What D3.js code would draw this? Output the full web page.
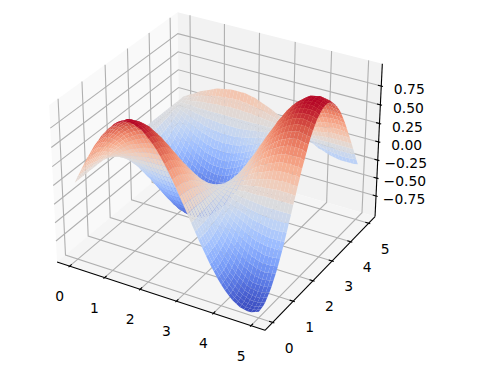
<!DOCTYPE html>
<html>
<head>
<meta charset="utf-8">
<script src="https://cdn.jsdelivr.net/npm/d3@7"></script>
<style>
  html, body { margin: 0; padding: 0; background: #fff; }
  svg { display: block; }
  text { font-family: "DejaVu Sans"; font-size: 13.89px; fill: #000; }
</style>
</head>
<body>
<svg></svg>
<script>
// Surface values, one row per x, one column per y
const xValues = [0,.1,.2,.3,.4,.5,.6,.7,.8,.9,1,1.1,1.2,1.3,1.4,1.5,1.6,1.7,1.8,1.9,2,2.1,2.2,2.3,2.4,2.5,2.6,2.7,2.8,2.9,3,3.1,3.2,3.3,3.4,3.5,3.6,3.7,3.8,3.9,4,4.1,4.2,4.3,4.4,4.5,4.6,4.7,4.8,4.9,5];
const yValues = [0,.1,.2,.3,.4,.5,.6,.7,.8,.9,1,1.1,1.2,1.3,1.4,1.5,1.6,1.7,1.8,1.9,2,2.1,2.2,2.3,2.4,2.5,2.6,2.7,2.8,2.9,3,3.1,3.2,3.3,3.4,3.5,3.6,3.7,3.8,3.9,4,4.1,4.2,4.3,4.4,4.5,4.6,4.7,4.8,4.9,5];
const zValues = [
[0,0,0,0,0,0,0,0,0,0,0,0,0,0,0,0,0,0,0,0,0,0,0,0,0,0,0,0,0,0,0,0,0,0,0,0,0,0,0,0,0,0,0,0,0,0,0,0,0,0,0],
[.10,.10,.10,.10,.09,.09,.08,.08,.07,.06,.05,.05,.04,.03,.02,.01,0,-.01,-.02,-.03,-.04,-.05,-.06,-.07,-.07,-.08,-.09,-.09,-.09,-.10,-.10,-.10,-.10,-.10,-.10,-.09,-.09,-.08,-.08,-.07,-.07,-.06,-.05,-.04,-.03,-.02,-.01,0,.01,.02,.03],
[.20,.20,.20,.19,.18,.17,.16,.15,.14,.12,.11,.09,.07,.05,.03,.01,-.01,-.03,-.05,-.06,-.08,-.10,-.12,-.13,-.15,-.16,-.17,-.18,-.19,-.19,-.20,-.20,-.20,-.20,-.19,-.19,-.18,-.17,-.16,-.14,-.13,-.11,-.10,-.08,-.06,-.04,-.02,0,.02,.04,.06],
[.30,.29,.29,.28,.27,.26,.24,.23,.21,.18,.16,.13,.11,.08,.05,.02,-.01,-.04,-.07,-.10,-.12,-.15,-.17,-.20,-.22,-.24,-.25,-.27,-.28,-.29,-.29,-.30,-.30,-.29,-.29,-.28,-.27,-.25,-.23,-.21,-.19,-.17,-.15,-.12,-.09,-.06,-.03,0,.03,.06,.08],
[.39,.39,.38,.37,.36,.34,.32,.30,.27,.24,.21,.18,.14,.10,.07,.03,-.01,-.05,-.09,-.13,-.16,-.20,-.23,-.26,-.29,-.31,-.33,-.35,-.37,-.38,-.39,-.39,-.39,-.38,-.38,-.36,-.35,-.33,-.31,-.28,-.25,-.22,-.19,-.16,-.12,-.08,-.04,0,.03,.07,.11],
[.48,.48,.47,.46,.44,.42,.40,.37,.33,.30,.26,.22,.17,.13,.08,.03,-.01,-.06,-.11,-.15,-.20,-.24,-.28,-.32,-.35,-.38,-.41,-.43,-.45,-.47,-.47,-.48,-.48,-.47,-.46,-.45,-.43,-.41,-.38,-.35,-.31,-.28,-.23,-.19,-.15,-.10,-.05,-.01,.04,.09,.14],
[.57,.56,.55,.54,.52,.50,.47,.43,.39,.35,.31,.26,.20,.15,.10,.04,-.02,-.07,-.13,-.18,-.24,-.29,-.33,-.38,-.42,-.45,-.48,-.51,-.53,-.55,-.56,-.56,-.56,-.56,-.55,-.53,-.51,-.48,-.45,-.41,-.37,-.32,-.28,-.23,-.17,-.12,-.06,-.01,.05,.11,.16],
[.64,.64,.63,.62,.59,.57,.53,.49,.45,.40,.35,.29,.23,.17,.11,.05,-.02,-.08,-.15,-.21,-.27,-.33,-.38,-.43,-.47,-.52,-.55,-.58,-.61,-.63,-.64,-.64,-.64,-.64,-.62,-.60,-.58,-.55,-.51,-.47,-.42,-.37,-.32,-.26,-.20,-.14,-.07,-.01,.06,.12,.18],
[.72,.71,.70,.68,.66,.63,.59,.55,.50,.45,.39,.33,.26,.19,.12,.05,-.02,-.09,-.16,-.23,-.30,-.36,-.42,-.48,-.53,-.57,-.61,-.65,-.68,-.70,-.71,-.72,-.72,-.71,-.69,-.67,-.64,-.61,-.57,-.52,-.47,-.41,-.35,-.29,-.22,-.15,-.08,-.01,.06,.13,.20],
[.78,.78,.77,.75,.72,.69,.65,.60,.55,.49,.42,.36,.28,.21,.13,.06,-.02,-.10,-.18,-.25,-.33,-.40,-.46,-.52,-.58,-.63,-.67,-.71,-.74,-.76,-.78,-.78,-.78,-.77,-.76,-.73,-.70,-.66,-.62,-.57,-.51,-.45,-.38,-.31,-.24,-.17,-.09,-.01,.07,.15,.22],
[.84,.84,.82,.80,.77,.74,.69,.64,.59,.52,.45,.38,.30,.22,.14,.06,-.02,-.11,-.19,-.27,-.35,-.42,-.50,-.56,-.62,-.67,-.72,-.76,-.79,-.82,-.83,-.84,-.84,-.83,-.81,-.79,-.75,-.71,-.67,-.61,-.55,-.48,-.41,-.34,-.26,-.18,-.09,-.01,.07,.16,.24],
[.89,.89,.87,.85,.82,.78,.74,.68,.62,.55,.48,.40,.32,.24,.15,.06,-.03,-.11,-.20,-.29,-.37,-.45,-.52,-.59,-.66,-.71,-.76,-.81,-.84,-.87,-.88,-.89,-.89,-.88,-.86,-.83,-.80,-.76,-.70,-.65,-.58,-.51,-.44,-.36,-.27,-.19,-.10,-.01,.08,.17,.25],
[.93,.93,.91,.89,.86,.82,.77,.71,.65,.58,.50,.42,.34,.25,.16,.07,-.03,-.12,-.21,-.30,-.39,-.47,-.55,-.62,-.69,-.75,-.80,-.84,-.88,-.90,-.92,-.93,-.93,-.92,-.90,-.87,-.84,-.79,-.74,-.68,-.61,-.54,-.46,-.37,-.29,-.20,-.10,-.01,.08,.17,.26],
[.96,.96,.94,.92,.89,.85,.80,.74,.67,.60,.52,.44,.35,.26,.16,.07,-.03,-.12,-.22,-.31,-.40,-.49,-.57,-.64,-.71,-.77,-.83,-.87,-.91,-.94,-.95,-.96,-.96,-.95,-.93,-.90,-.86,-.82,-.76,-.70,-.63,-.55,-.47,-.39,-.30,-.20,-.11,-.01,.08,.18,.27],
[.99,.98,.97,.94,.91,.86,.81,.75,.69,.61,.53,.45,.36,.26,.17,.07,-.03,-.13,-.22,-.32,-.41,-.50,-.58,-.66,-.73,-.79,-.84,-.89,-.93,-.96,-.98,-.98,-.98,-.97,-.95,-.92,-.88,-.84,-.78,-.72,-.64,-.57,-.48,-.39,-.30,-.21,-.11,-.01,.09,.18,.28],
[1,.99,.98,.95,.92,.88,.82,.76,.69,.62,.54,.45,.36,.27,.17,.07,-.03,-.13,-.23,-.32,-.41,-.50,-.59,-.66,-.73,-.80,-.85,-.90,-.94,-.97,-.99,-1,-1,-.98,-.96,-.93,-.89,-.85,-.79,-.72,-.65,-.57,-.49,-.40,-.31,-.21,-.11,-.01,.09,.19,.28],
[1,.99,.98,.95,.92,.88,.82,.77,.70,.62,.54,.45,.36,.27,.17,.07,-.03,-.13,-.23,-.32,-.42,-.50,-.59,-.67,-.74,-.80,-.86,-.90,-.94,-.97,-.99,-1,-1,-.99,-.97,-.94,-.90,-.85,-.79,-.73,-.65,-.57,-.49,-.40,-.31,-.21,-.11,-.01,.09,.19,.28],
[.99,.99,.97,.95,.91,.87,.82,.76,.69,.62,.54,.45,.36,.26,.17,.07,-.03,-.13,-.23,-.32,-.41,-.50,-.58,-.66,-.73,-.79,-.85,-.90,-.93,-.96,-.98,-.99,-.99,-.98,-.96,-.93,-.89,-.84,-.78,-.72,-.65,-.57,-.49,-.40,-.30,-.21,-.11,-.01,.09,.19,.28],
[.97,.97,.95,.93,.90,.86,.80,.75,.68,.61,.53,.44,.35,.26,.17,.07,-.03,-.13,-.22,-.31,-.41,-.49,-.57,-.65,-.72,-.78,-.83,-.88,-.92,-.95,-.96,-.97,-.97,-.96,-.94,-.91,-.87,-.83,-.77,-.71,-.64,-.56,-.48,-.39,-.30,-.21,-.11,-.01,.09,.18,.28],
[.95,.94,.93,.90,.87,.83,.78,.72,.66,.59,.51,.43,.34,.25,.16,.07,-.03,-.12,-.21,-.31,-.39,-.48,-.56,-.63,-.70,-.76,-.81,-.86,-.89,-.92,-.94,-.95,-.94,-.93,-.91,-.89,-.85,-.80,-.75,-.69,-.62,-.54,-.46,-.38,-.29,-.20,-.11,-.01,.08,.18,.27],
[.91,.90,.89,.87,.84,.80,.75,.70,.63,.57,.49,.41,.33,.24,.15,.06,-.03,-.12,-.21,-.29,-.38,-.46,-.54,-.61,-.67,-.73,-.78,-.82,-.86,-.88,-.90,-.91,-.91,-.90,-.88,-.85,-.82,-.77,-.72,-.66,-.59,-.52,-.45,-.36,-.28,-.19,-.10,-.01,.08,.17,.26],
[.86,.86,.85,.82,.79,.76,.71,.66,.60,.54,.47,.39,.31,.23,.15,.06,-.03,-.11,-.20,-.28,-.36,-.44,-.51,-.57,-.64,-.69,-.74,-.78,-.81,-.84,-.85,-.86,-.86,-.85,-.83,-.81,-.77,-.73,-.68,-.63,-.56,-.50,-.42,-.35,-.26,-.18,-.10,-.01,.08,.16,.25],
[.81,.80,.79,.77,.74,.71,.67,.62,.56,.50,.44,.37,.29,.22,.14,.06,-.02,-.10,-.18,-.26,-.34,-.41,-.48,-.54,-.60,-.65,-.69,-.73,-.76,-.78,-.80,-.81,-.81,-.80,-.78,-.76,-.72,-.69,-.64,-.59,-.53,-.46,-.40,-.32,-.25,-.17,-.09,-.01,.07,.15,.23],
[.75,.74,.73,.71,.69,.65,.62,.57,.52,.46,.40,.34,.27,.20,.13,.05,-.02,-.10,-.17,-.24,-.31,-.38,-.44,-.50,-.55,-.60,-.64,-.67,-.70,-.72,-.74,-.75,-.74,-.74,-.72,-.70,-.67,-.63,-.59,-.54,-.49,-.43,-.37,-.30,-.23,-.16,-.08,-.01,.07,.14,.21],
[.68,.67,.66,.64,.62,.59,.56,.52,.47,.42,.36,.31,.24,.18,.11,.05,-.02,-.09,-.15,-.22,-.28,-.34,-.40,-.45,-.50,-.54,-.58,-.61,-.64,-.66,-.67,-.67,-.67,-.67,-.65,-.63,-.61,-.57,-.53,-.49,-.44,-.39,-.33,-.27,-.21,-.14,-.08,-.01,.06,.13,.19],
[.60,.59,.59,.57,.55,.53,.49,.46,.42,.37,.32,.27,.22,.16,.10,.04,-.02,-.08,-.14,-.19,-.25,-.30,-.35,-.40,-.44,-.48,-.51,-.54,-.56,-.58,-.59,-.60,-.60,-.59,-.58,-.56,-.54,-.51,-.47,-.43,-.39,-.34,-.29,-.24,-.18,-.13,-.07,-.01,.05,.11,.17],
[.52,.51,.51,.49,.48,.45,.43,.39,.36,.32,.28,.23,.19,.14,.09,.04,-.01,-.07,-.12,-.17,-.21,-.26,-.30,-.34,-.38,-.41,-.44,-.47,-.49,-.50,-.51,-.52,-.51,-.51,-.50,-.48,-.46,-.44,-.41,-.37,-.34,-.30,-.25,-.21,-.16,-.11,-.06,-.01,.05,.10,.15],
[.43,.42,.42,.41,.39,.37,.35,.33,.30,.27,.23,.19,.15,.11,.07,.03,-.01,-.06,-.10,-.14,-.18,-.22,-.25,-.28,-.31,-.34,-.37,-.39,-.40,-.41,-.42,-.43,-.43,-.42,-.41,-.40,-.38,-.36,-.34,-.31,-.28,-.25,-.21,-.17,-.13,-.09,-.05,-.01,.04,.08,.12],
[.34,.33,.33,.32,.31,.29,.28,.26,.23,.21,.18,.15,.12,.09,.06,.02,-.01,-.04,-.08,-.11,-.14,-.17,-.20,-.22,-.25,-.27,-.29,-.30,-.32,-.33,-.33,-.33,-.33,-.33,-.32,-.31,-.30,-.28,-.26,-.24,-.22,-.19,-.16,-.13,-.10,-.07,-.04,0,.03,.06,.10],
[.24,.24,.23,.23,.22,.21,.20,.18,.17,.15,.13,.11,.09,.06,.04,.02,-.01,-.03,-.05,-.08,-.10,-.12,-.14,-.16,-.18,-.19,-.20,-.22,-.23,-.23,-.24,-.24,-.24,-.24,-.23,-.22,-.21,-.20,-.19,-.17,-.16,-.14,-.12,-.10,-.07,-.05,-.03,0,.02,.04,.07],
[.14,.14,.14,.13,.13,.12,.12,.11,.10,.09,.08,.06,.05,.04,.02,.01,0,-.02,-.03,-.05,-.06,-.07,-.08,-.09,-.10,-.11,-.12,-.13,-.13,-.14,-.14,-.14,-.14,-.14,-.14,-.13,-.13,-.12,-.11,-.10,-.09,-.08,-.07,-.06,-.04,-.03,-.02,0,.01,.03,.04],
[.04,.04,.04,.04,.04,.04,.03,.03,.03,.03,.02,.02,.02,.01,.01,0,0,-.01,-.01,-.01,-.02,-.02,-.02,-.03,-.03,-.03,-.04,-.04,-.04,-.04,-.04,-.04,-.04,-.04,-.04,-.04,-.04,-.04,-.03,-.03,-.03,-.02,-.02,-.02,-.01,-.01,0,0,0,.01,.01],
[-.06,-.06,-.06,-.06,-.05,-.05,-.05,-.04,-.04,-.04,-.03,-.03,-.02,-.02,-.01,0,0,.01,.01,.02,.02,.03,.03,.04,.04,.05,.05,.05,.05,.06,.06,.06,.06,.06,.06,.05,.05,.05,.05,.04,.04,.03,.03,.02,.02,.01,.01,0,-.01,-.01,-.02],
[-.16,-.16,-.15,-.15,-.15,-.14,-.13,-.12,-.11,-.10,-.09,-.07,-.06,-.04,-.03,-.01,0,.02,.04,.05,.07,.08,.09,.11,.12,.13,.14,.14,.15,.15,.16,.16,.16,.16,.15,.15,.14,.13,.12,.11,.10,.09,.08,.06,.05,.03,.02,0,-.01,-.03,-.04],
[-.26,-.25,-.25,-.24,-.24,-.22,-.21,-.20,-.18,-.16,-.14,-.12,-.09,-.07,-.04,-.02,.01,.03,.06,.08,.11,.13,.15,.17,.19,.21,.22,.23,.24,.25,.25,.26,.26,.25,.25,.24,.23,.22,.20,.19,.17,.15,.13,.10,.08,.05,.03,0,-.02,-.05,-.07],
[-.35,-.35,-.34,-.34,-.32,-.31,-.29,-.27,-.24,-.22,-.19,-.16,-.13,-.09,-.06,-.02,.01,.05,.08,.11,.15,.18,.21,.23,.26,.28,.30,.32,.33,.34,.35,.35,.35,.35,.34,.33,.31,.30,.28,.25,.23,.20,.17,.14,.11,.07,.04,0,-.03,-.07,-.10],
[-.44,-.44,-.43,-.42,-.41,-.39,-.37,-.34,-.31,-.28,-.24,-.20,-.16,-.12,-.08,-.03,.01,.06,.10,.14,.18,.22,.26,.30,.33,.35,.38,.40,.42,.43,.44,.44,.44,.44,.43,.41,.40,.38,.35,.32,.29,.25,.22,.18,.14,.09,.05,.01,-.04,-.08,-.13],
[-.53,-.53,-.52,-.51,-.49,-.47,-.44,-.41,-.37,-.33,-.29,-.24,-.19,-.14,-.09,-.04,.02,.07,.12,.17,.22,.27,.31,.35,.39,.42,.45,.48,.50,.51,.52,.53,.53,.52,.51,.50,.48,.45,.42,.38,.35,.30,.26,.21,.16,.11,.06,.01,-.05,-.10,-.15],
[-.61,-.61,-.60,-.58,-.56,-.54,-.50,-.47,-.43,-.38,-.33,-.28,-.22,-.16,-.10,-.04,.02,.08,.14,.20,.25,.31,.36,.41,.45,.49,.52,.55,.58,.59,.61,.61,.61,.60,.59,.57,.55,.52,.48,.44,.40,.35,.30,.25,.19,.13,.07,.01,-.05,-.11,-.17],
[-.69,-.68,-.67,-.66,-.63,-.60,-.57,-.53,-.48,-.43,-.37,-.31,-.25,-.18,-.12,-.05,.02,.09,.16,.22,.29,.35,.41,.46,.51,.55,.59,.62,.65,.67,.68,.69,.69,.68,.67,.64,.62,.58,.54,.50,.45,.40,.34,.28,.21,.15,.08,.01,-.06,-.13,-.20],
[-.76,-.75,-.74,-.72,-.70,-.66,-.62,-.58,-.53,-.47,-.41,-.34,-.27,-.20,-.13,-.05,.02,.10,.17,.24,.31,.38,.45,.50,.56,.61,.65,.68,.71,.74,.75,.76,.76,.75,.73,.71,.68,.64,.60,.55,.50,.44,.37,.30,.23,.16,.08,.01,-.07,-.14,-.21],
[-.82,-.81,-.80,-.78,-.75,-.72,-.67,-.63,-.57,-.51,-.44,-.37,-.30,-.22,-.14,-.06,.02,.11,.19,.26,.34,.41,.48,.54,.60,.66,.70,.74,.77,.79,.81,.82,.82,.81,.79,.77,.73,.69,.65,.59,.53,.47,.40,.33,.25,.17,.09,.01,-.07,-.15,-.23],
[-.87,-.87,-.85,-.83,-.80,-.77,-.72,-.67,-.61,-.54,-.47,-.40,-.32,-.23,-.15,-.06,.03,.11,.20,.28,.36,.44,.51,.58,.64,.70,.75,.79,.82,.85,.86,.87,.87,.86,.84,.82,.78,.74,.69,.63,.57,.50,.43,.35,.27,.18,.10,.01,-.08,-.16,-.25],
[-.92,-.91,-.90,-.87,-.84,-.80,-.76,-.70,-.64,-.57,-.49,-.42,-.33,-.24,-.16,-.07,.03,.12,.21,.30,.38,.46,.54,.61,.68,.73,.79,.83,.86,.89,.91,.92,.91,.90,.89,.86,.82,.78,.72,.67,.60,.53,.45,.37,.28,.19,.10,.01,-.08,-.17,-.26],
[-.95,-.95,-.93,-.91,-.88,-.84,-.79,-.73,-.66,-.59,-.51,-.43,-.34,-.25,-.16,-.07,.03,.12,.22,.31,.40,.48,.56,.63,.70,.76,.82,.86,.90,.92,.94,.95,.95,.94,.92,.89,.85,.81,.75,.69,.62,.55,.47,.38,.29,.20,.11,.01,-.08,-.18,-.27],
[-.98,-.97,-.96,-.93,-.90,-.86,-.81,-.75,-.68,-.61,-.53,-.44,-.35,-.26,-.17,-.07,.03,.13,.22,.32,.41,.49,.58,.65,.72,.78,.84,.88,.92,.95,.97,.98,.98,.97,.95,.92,.88,.83,.77,.71,.64,.56,.48,.39,.30,.21,.11,.01,-.09,-.18,-.28],
[-.99,-.99,-.97,-.95,-.92,-.87,-.82,-.76,-.69,-.62,-.54,-.45,-.36,-.27,-.17,-.07,.03,.13,.23,.32,.41,.50,.59,.66,.73,.80,.85,.90,.94,.97,.98,.99,.99,.98,.96,.93,.89,.84,.79,.72,.65,.57,.49,.40,.31,.21,.11,.01,-.09,-.19,-.28],
[-1,-.99,-.98,-.95,-.92,-.88,-.82,-.77,-.70,-.62,-.54,-.45,-.36,-.27,-.17,-.07,.03,.13,.23,.32,.42,.50,.59,.67,.74,.80,.86,.90,.94,.97,.99,1,1,.99,.97,.94,.90,.85,.79,.73,.65,.57,.49,.40,.31,.21,.11,.01,-.09,-.19,-.28],
[-1,-.99,-.98,-.95,-.92,-.87,-.82,-.76,-.69,-.62,-.54,-.45,-.36,-.27,-.17,-.07,.03,.13,.23,.32,.41,.50,.59,.66,.73,.80,.85,.90,.94,.97,.99,.99,.99,.98,.96,.93,.89,.84,.79,.72,.65,.57,.49,.40,.31,.21,.11,.01,-.09,-.19,-.28],
[-.98,-.98,-.96,-.94,-.90,-.86,-.81,-.75,-.68,-.61,-.53,-.45,-.36,-.26,-.17,-.07,.03,.13,.22,.32,.41,.50,.58,.65,.72,.79,.84,.89,.93,.95,.97,.98,.98,.97,.95,.92,.88,.83,.78,.71,.64,.56,.48,.39,.30,.21,.11,.01,-.09,-.18,-.28],
[-.96,-.95,-.94,-.92,-.88,-.84,-.79,-.73,-.67,-.60,-.52,-.44,-.35,-.26,-.16,-.07,.03,.12,.22,.31,.40,.48,.56,.64,.71,.77,.82,.87,.90,.93,.95,.96,.96,.95,.93,.90,.86,.81,.76,.70,.63,.55,.47,.38,.29,.20,.11,.01,-.08,-.18,-.27]
];

const xTicks = [0, 1, 2, 3, 4, 5];
const yTicks = [0, 1, 2, 3, 4, 5];
const zTicks = [-0.75, -0.5, -0.25, 0, 0.25, 0.5, 0.75];
const zTickLabels = ["\u22120.75", "\u22120.50", "\u22120.25", "0.00", "0.25", "0.50", "0.75"];
const coolwarm = ["#3b4cc0", "#5977e3", "#7b9ff9", "#9ebeff", "#c0d4f5", "#dddcdc", "#f2cbb7", "#f7ac8e", "#ee8468", "#d65244", "#b40426"];

const width = 478;
const height = 384;
const svg = d3.select("svg").attr("width", width).attr("height", height);

// Data to box coordinates, box centred on the origin (aspect 4:4:3)
const boxX = d3.scaleLinear().domain([-0.25, 5.25]).range([-0.5953, 0.5953]);
const boxY = d3.scaleLinear().domain([-0.25, 5.25]).range([-0.5953, 0.5953]);
const boxZ = d3.scaleLinear().domain([-1, 1]).range([-0.4464, 0.4464]);

// Camera: elevation 30, azimuth -60, distance 10
const elev = 30 * Math.PI / 180;
const azim = -60 * Math.PI / 180;
const dist = 10;
const w = [Math.cos(elev) * Math.cos(azim), Math.cos(elev) * Math.sin(azim), Math.sin(elev)];
const u = [-Math.sin(azim), Math.cos(azim), 0];
const v = [-Math.sin(elev) * Math.cos(azim), -Math.sin(elev) * Math.sin(azim), Math.cos(elev)];
const dot = (a, b) => a[0] * b[0] + a[1] * b[1] + a[2] * b[2];

// Projected plane to pixels
const screenX = d3.scaleLinear().domain([-0.1, 0.1]).range([27.1, 411.1]);
const screenY = d3.scaleLinear().domain([-0.1, 0.1]).range([355.3, -28.7]);

function project(x, y, z) {
    const q = [boxX(x), boxY(y), boxZ(z)];
    const d = dist - dot(w, q);
    return { x: screenX(dot(u, q) / d), y: screenY(dot(v, q) / d), depth: d };
}

const path3d = d3.line().x(d => d.x).y(d => d.y);
const closed3d = d3.line().x(d => d.x).y(d => d.y).curve(d3.curveLinearClosed);

// Pane limits run a little past the axis limits
const x0 = -0.25 - 5.5 / 48, x1 = 5.25 + 5.5 / 48;
const y0 = -0.25 - 5.5 / 48, y1 = 5.25 + 5.5 / 48;
const z0 = -1 - 1 / 24, z1 = 1 + 1 / 24;

// Panes
const panes = [
    { fill: "#f9f9f9", pts: [[x0, y0, z0], [x0, y1, z0], [x0, y1, z1], [x0, y0, z1]] },
    { fill: "#f2f2f2", pts: [[x0, y1, z0], [x1, y1, z0], [x1, y1, z1], [x0, y1, z1]] },
    { fill: "#f5f5f5", pts: [[x0, y0, z0], [x1, y0, z0], [x1, y1, z0], [x0, y1, z0]] }
];
svg.append("g").selectAll("path").data(panes).join("path")
    .attr("fill", d => d.fill)
    .attr("d", d => closed3d(d.pts.map(p => project(...p))));

// Grid lines
const gridLines = [
    ...xTicks.map(t => [[t, y0, z0], [t, y1, z0], [t, y1, z1]]),
    ...yTicks.map(t => [[x1, t, z0], [x0, t, z0], [x0, t, z1]]),
    ...zTicks.map(t => [[x1, y1, t], [x0, y1, t], [x0, y0, t]])
];
svg.append("g").selectAll("path").data(gridLines).join("path")
    .attr("fill", "none")
    .attr("stroke", "#b0b0b0")
    .attr("stroke-width", 1.1)
    .attr("d", d => path3d(d.map(p => project(...p))));

// Axis lines
const axisLines = [
    [[x0, y0, z0], [x1, y0, z0]],
    [[x1, y0, z0], [x1, y1, z0]],
    [[x1, y1, z0], [x1, y1, z1]]
];
// Tick marks, short segments across each axis line
const xDelta = 5.5 / 12, yDelta = 5.5 / 12;
const tickLines = [
    ...xTicks.map(t => [[t, y0 - 0.1 * yDelta, z0], [t, y0 + 0.2 * yDelta, z0]]),
    ...yTicks.map(t => [[x1 + 0.1 * xDelta, t, z0], [x1 - 0.2 * xDelta, t, z0]]),
    ...zTicks.map(t => [[x1 + 0.1 * xDelta, y1, t], [x1 - 0.2 * xDelta, y1, t]])
];
svg.append("g").selectAll("path").data([...axisLines, ...tickLines]).join("path")
    .attr("fill", "none")
    .attr("stroke", "#000")
    .attr("stroke-width", 1.1)
    .attr("d", d => path3d(d.map(p => project(...p))));

// Tick labels
const labels = [
    ...xTicks.map(t => ({ text: String(t), p: project(t, y0, z0), dx: -10, dy: 30 })),
    ...yTicks.map(t => ({ text: String(t), p: project(x1, t, z0), dx: 16.5, dy: 25.5 })),
    ...zTicks.map((t, i) => ({ text: zTickLabels[i], p: project(x1, y1, t), dx: 28, dy: 3 }))
];
svg.append("g").selectAll("text").data(labels).join("text")
    .attr("x", d => d.p.x + d.dx)
    .attr("y", d => d.p.y + d.dy)
    .attr("dy", "0.36em")
    .attr("text-anchor", "middle")
    .text(d => d.text);

// Surface facets, coloured by mean height and painted back to front
const facets = [];
for (let i = 0; i < xValues.length - 1; i++) {
    for (let j = 0; j < yValues.length - 1; j++) {
        const corners = [[i, j], [i + 1, j], [i + 1, j + 1], [i, j + 1]];
        const pts = corners.map(c => project(xValues[c[0]], yValues[c[1]], zValues[c[0]][c[1]]));
        facets.push({
            pts: pts,
            mean: d3.mean(corners, c => zValues[c[0]][c[1]]),
            depth: d3.mean(pts, p => p.depth)
        });
    }
}
facets.sort((a, b) => d3.descending(a.depth, b.depth));

const meanExtent = d3.extent(facets, d => d.mean);
const color = d3.scaleLinear()
    .domain(coolwarm.map((c, i) => meanExtent[0] + (meanExtent[1] - meanExtent[0]) * i / (coolwarm.length - 1)))
    .range(coolwarm);

svg.append("g").selectAll("path").data(facets).join("path")
    .attr("fill", d => color(d.mean))
    .attr("d", d => closed3d(d.pts));
</script>
</body>
</html>
